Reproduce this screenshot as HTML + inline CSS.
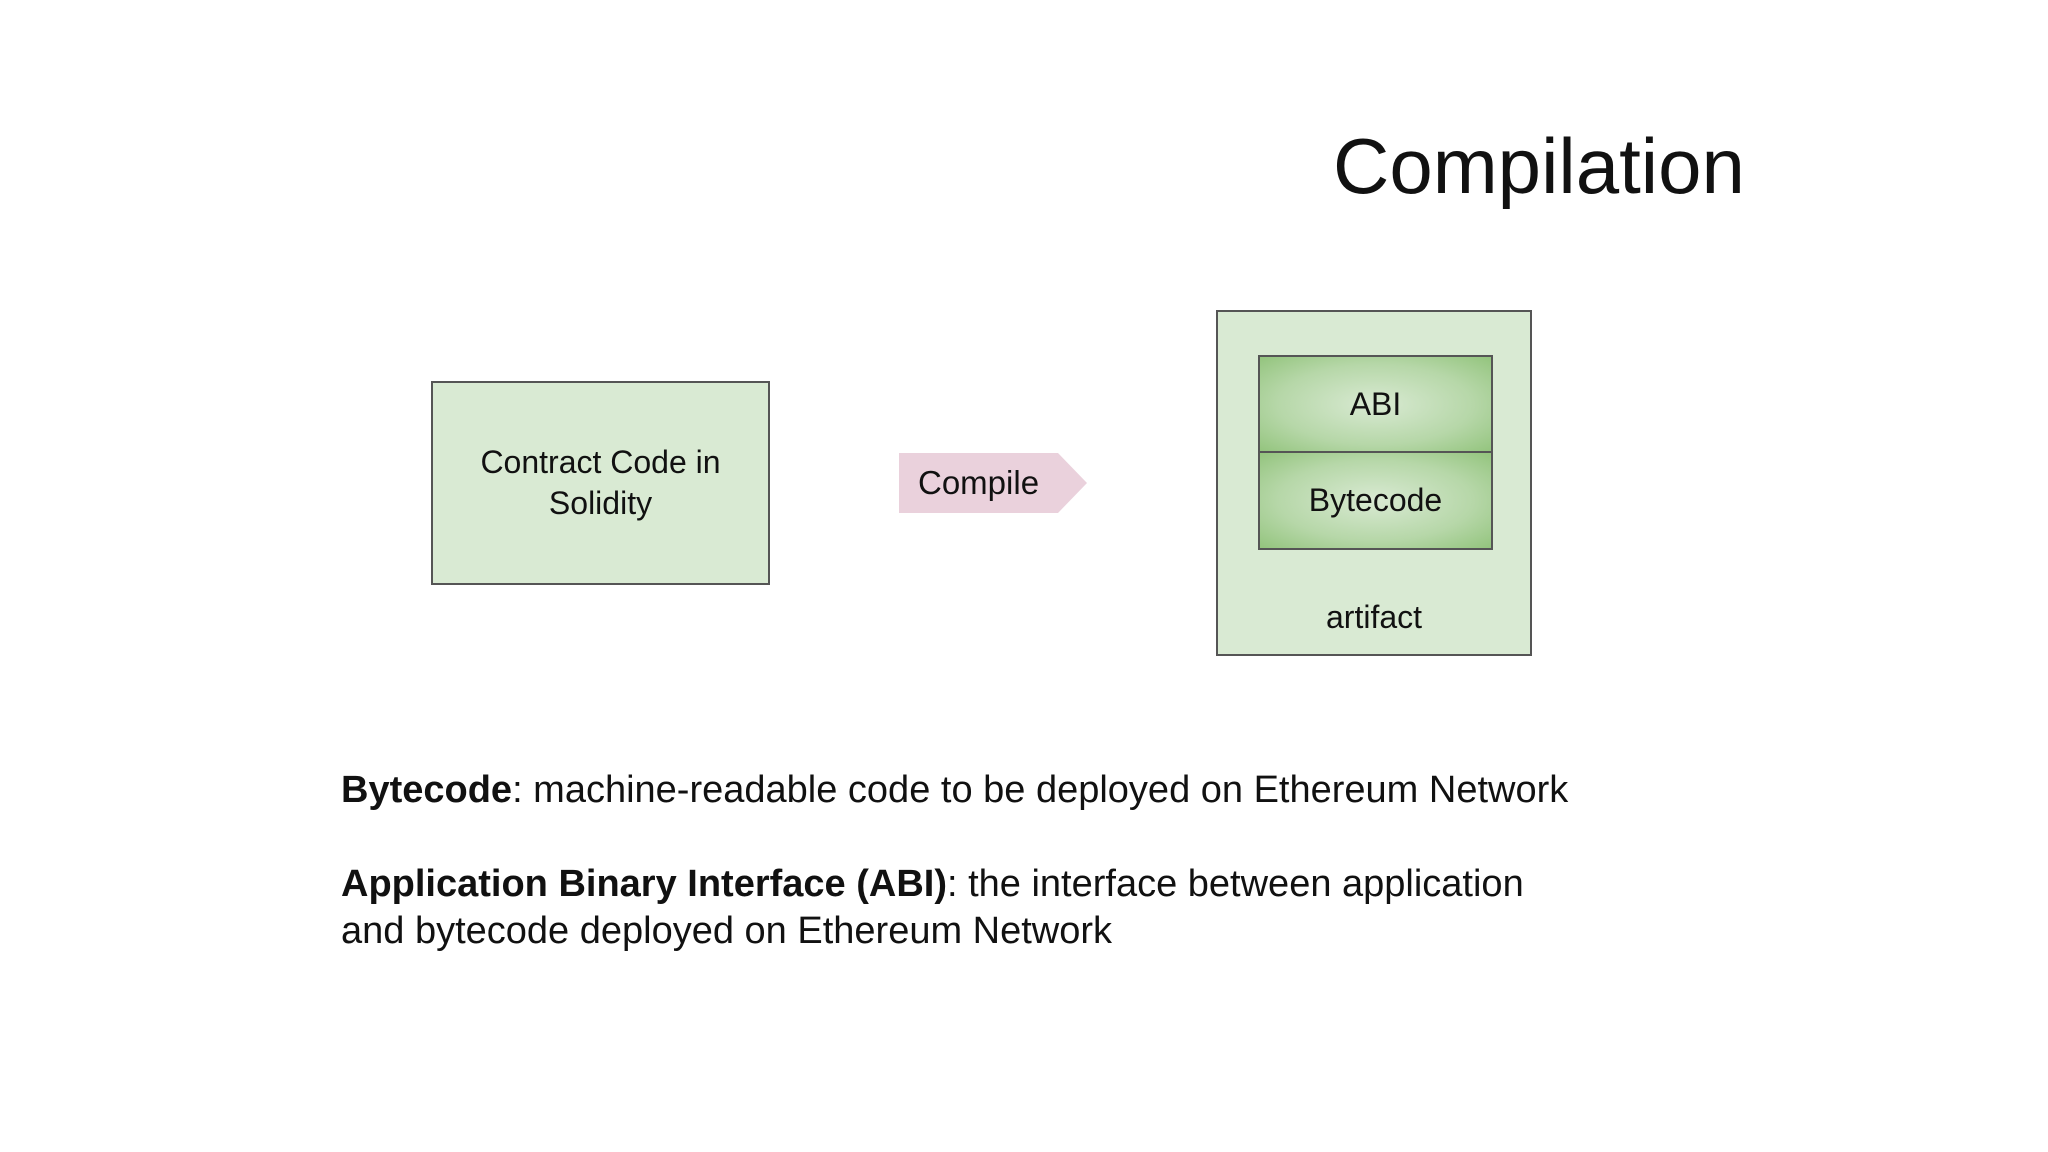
<!DOCTYPE html>
<html><head><meta charset="utf-8"><style>
body{margin:0;width:2048px;height:1152px;background:#fff;position:relative;overflow:hidden;font-family:"Liberation Sans",Arial,sans-serif;color:#111}
.a{position:absolute}
.box{position:absolute;background:#d9ead3;border:2px solid #555;box-sizing:border-box}
.c{display:flex;align-items:center;justify-content:center;text-align:center}
.g{background:radial-gradient(ellipse at center,#d9ead3 0%,#b6d7a8 60%,#93c47d 100%)}
</style></head><body>
<div class="a" style="left:1333px;top:118px;font-size:78px;line-height:96px">Compilation</div>
<div class="box c" style="left:431px;top:381px;width:339px;height:204px;font-size:32px;line-height:41px">Contract Code in<br>Solidity</div>
<svg class="a" style="left:899px;top:453px" width="190" height="62"><polygon points="0,0 159,0 188,30 159,60 0,60" fill="#ead1dc"/></svg>
<div class="a" style="left:918px;top:463px;font-size:33px;line-height:40px">Compile</div>
<div class="box" style="left:1216px;top:310px;width:316px;height:346px"></div>
<div class="box c g" style="left:1258px;top:355px;width:235px;height:99px;font-size:32px">ABI</div>
<div class="box c g" style="left:1258px;top:451px;width:235px;height:99px;font-size:32px">Bytecode</div>
<div class="a c" style="left:1216px;top:595px;width:316px;height:44px;font-size:32px">artifact</div>
<div class="a" style="left:341px;top:767px;font-size:38px;line-height:47px"><b>Bytecode</b>: machine-readable code to be deployed on Ethereum Network</div>
<div class="a" style="left:341px;top:861px;font-size:38px;line-height:47px"><b>Application Binary Interface (ABI)</b>: the interface between application<br>and bytecode deployed on Ethereum Network</div>
</body></html>
